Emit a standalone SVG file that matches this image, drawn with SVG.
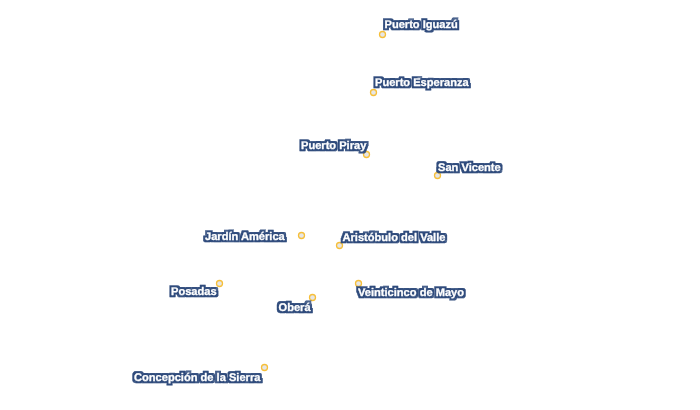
<svg xmlns="http://www.w3.org/2000/svg" width="700" height="410" viewBox="0 0 700 410">
<style>
.d{fill:#e6e6e6;stroke:#f6bf3a;stroke-width:1.300}
.t{font-family:"Liberation Sans",Arial,sans-serif;font-size:11.100px;font-weight:700;fill:#fff;stroke:#fff;stroke-width:.3px;stroke-linejoin:round;text-rendering:geometricPrecision;filter:url(#halo)}
</style>
<defs>
<filter id="halo" x="-10%" y="-40%" width="120%" height="180%" color-interpolation-filters="sRGB">
<feMorphology in="SourceAlpha" operator="dilate" radius="1.500" result="m"/>
<feGaussianBlur in="m" stdDeviation="0.600" result="b"/>
<feFlood flood-color="#2f4b7c"/>
<feComposite in2="b" operator="in" result="c"/>
<feMerge><feMergeNode in="c"/><feMergeNode in="SourceGraphic"/></feMerge>
</filter>
</defs>
<rect width="700" height="410" fill="#fff"/>
<g id="connectors"></g>
<g id="n1"><circle class="d" cx="382.500" cy="34.500" r="3"/><text class="t" x="384.500" y="28">Puerto Iguazú</text></g>
<g id="n2"><circle class="d" cx="373.500" cy="92.500" r="3"/><text class="t" x="375" y="86">Puerto Esperanza</text></g>
<g id="n3"><circle class="d" cx="366.500" cy="154.500" r="3"/><text class="t" x="301" y="148.500">Puerto Piray</text></g>
<g id="n4"><circle class="d" cx="437.500" cy="175.500" r="3"/><text class="t" x="438" y="171">San Vicente</text></g>
<g id="n5"><circle class="d" cx="301.500" cy="235.500" r="3"/><text class="t" x="205" y="240">Jardín América</text></g>
<g id="n6"><circle class="d" cx="339.500" cy="245.500" r="3"/><text class="t" x="342.500" y="241">Aristóbulo del Valle</text></g>
<g id="n7"><circle class="d" cx="219.500" cy="283.500" r="3"/><text class="t" x="171" y="295">Posadas</text></g>
<g id="n8"><circle class="d" cx="358.500" cy="283.500" r="3"/><text class="t" x="358" y="296">Veinticinco de Mayo</text></g>
<g id="n9"><circle class="d" cx="312.500" cy="297.500" r="3"/><text class="t" x="278.500" y="310.500">Oberá</text></g>
<g id="n10"><circle class="d" cx="264.500" cy="367.500" r="3"/><text class="t" x="134" y="381">Concepción de la Sierra</text></g>
</svg>
